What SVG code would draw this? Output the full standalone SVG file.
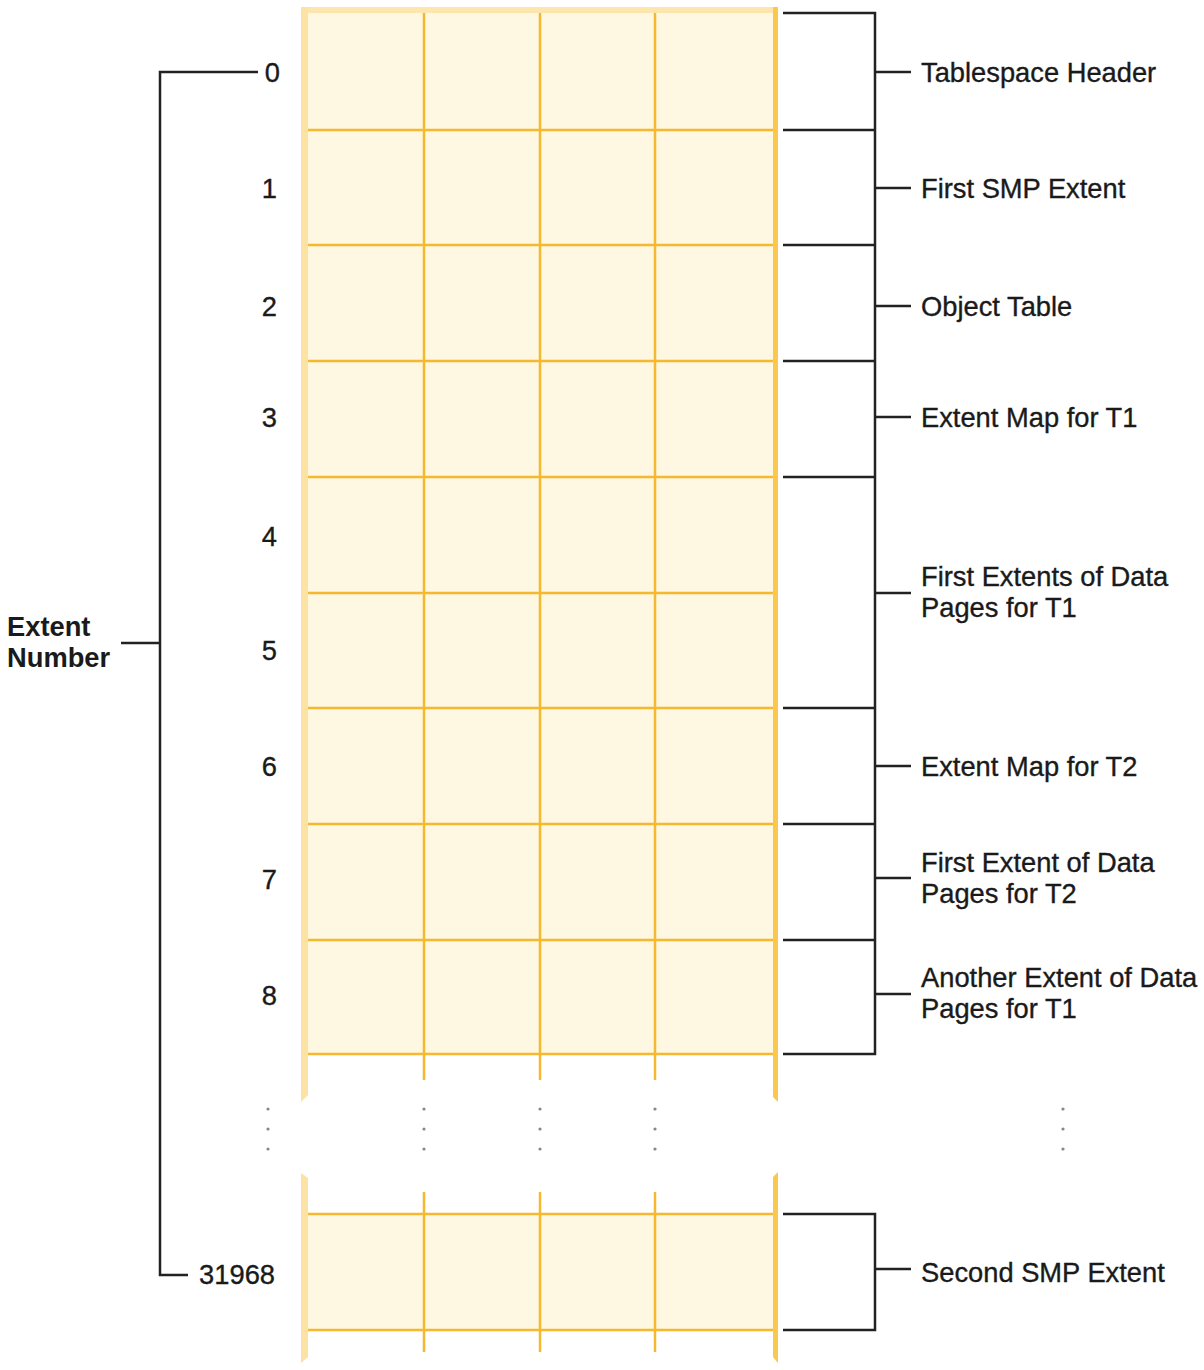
<svg xmlns="http://www.w3.org/2000/svg" width="1204" height="1370" viewBox="0 0 1204 1370">
<style>
.lbl{font-family:"Liberation Sans",Arial,sans-serif;font-size:27.3px;fill:#1a1a1a;stroke:#1a1a1a;stroke-width:0.35}
.num{font-family:"Liberation Sans",Arial,sans-serif;font-size:27.3px;fill:#1a1a1a;stroke:#1a1a1a;stroke-width:0.35;text-anchor:end}
.bold{font-family:"Liberation Sans",Arial,sans-serif;font-size:27.3px;font-weight:bold;fill:#1a1a1a}
.grid{stroke:#f6b82e;stroke-width:2.5;fill:none}
.brk{stroke:#222;stroke-width:2.5;fill:none}
.dot{fill:#888}
</style>
<rect width="1204" height="1370" fill="#fff"/>
<g id="grid">
<rect x="304" y="10" width="471" height="1044" fill="#fef7e1"/>
<rect x="304" y="1214" width="471" height="116" fill="#fef7e1"/>
<path class="grid" d="M308 130H773M308 245H773M308 361H773M308 477H773M308 593H773M308 708H773M308 824H773M308 940H773M308 1054H773"/>
<path class="grid" d="M424 13V1080M540 13V1080M655 13V1080"/>
<path class="grid" d="M308 1214H773M308 1330H773"/>
<path class="grid" d="M424 1192V1352M540 1192V1352M655 1192V1352"/>
<rect x="301" y="7" width="477" height="6" fill="#fce6ad"/>
<polygon points="301,7 308,7 308,1095 301,1102" fill="#fce3a4"/>
<polygon points="301,1173 308,1178 308,1357 301,1363" fill="#fce3a4"/>
<polygon points="773,7 778,7 778,1102 773,1097" fill="#f9c84c"/>
<polygon points="773,1177 778,1172 778,1363 773,1357" fill="#f9c84c"/>
</g>
<g id="dots">
<circle class="dot" cx="268" cy="1109" r="1.6"/><circle class="dot" cx="268" cy="1129" r="1.6"/><circle class="dot" cx="268" cy="1149" r="1.6"/>
<circle class="dot" cx="424" cy="1109" r="1.6"/><circle class="dot" cx="424" cy="1129" r="1.6"/><circle class="dot" cx="424" cy="1149" r="1.6"/>
<circle class="dot" cx="540" cy="1109" r="1.6"/><circle class="dot" cx="540" cy="1129" r="1.6"/><circle class="dot" cx="540" cy="1149" r="1.6"/>
<circle class="dot" cx="655" cy="1109" r="1.6"/><circle class="dot" cx="655" cy="1129" r="1.6"/><circle class="dot" cx="655" cy="1149" r="1.6"/>
<circle class="dot" cx="1063" cy="1109" r="1.6"/><circle class="dot" cx="1063" cy="1129" r="1.6"/><circle class="dot" cx="1063" cy="1149" r="1.6"/>
</g>
<g id="connectors">
<path class="brk" d="M258 72H160V1275H188M121 643H160"/>
<path class="brk" d="M783 13H875V1054H783M783 130H875M783 245H875M783 361H875M783 477H875M783 708H875M783 824H875M783 940H875"/>
<path class="brk" d="M875 72H911M875 188H911M875 306H911M875 417H911M875 593H911M875 766H911M875 878H911M875 994H911"/>
<path class="brk" d="M783 1214H875V1330H783M875 1269H911"/>
</g>
<g id="extent-number">
<text class="bold" x="7" y="636">Extent</text>
<text class="bold" x="7" y="667">Number</text>
</g>
<g id="numbers">
<text class="num" x="280" y="82">0</text>
<text class="num" x="277" y="198">1</text>
<text class="num" x="277" y="316">2</text>
<text class="num" x="277" y="427">3</text>
<text class="num" x="277" y="546">4</text>
<text class="num" x="277" y="660">5</text>
<text class="num" x="277" y="776">6</text>
<text class="num" x="277" y="889">7</text>
<text class="num" x="277" y="1005">8</text>
<text class="num" x="275" y="1284">31968</text>
</g>
<g id="labels">
<text class="lbl" x="921" y="82">Tablespace Header</text>
<text class="lbl" x="921" y="198">First SMP Extent</text>
<text class="lbl" x="921" y="316">Object Table</text>
<text class="lbl" x="921" y="427">Extent Map for T1</text>
<text class="lbl" x="921" y="586">First Extents of Data</text>
<text class="lbl" x="921" y="617">Pages for T1</text>
<text class="lbl" x="921" y="776">Extent Map for T2</text>
<text class="lbl" x="921" y="872">First Extent of Data</text>
<text class="lbl" x="921" y="903">Pages for T2</text>
<text class="lbl" x="921" y="987">Another Extent of Data</text>
<text class="lbl" x="921" y="1018">Pages for T1</text>
<text class="lbl" x="921" y="1282">Second SMP Extent</text>
</g>
</svg>
